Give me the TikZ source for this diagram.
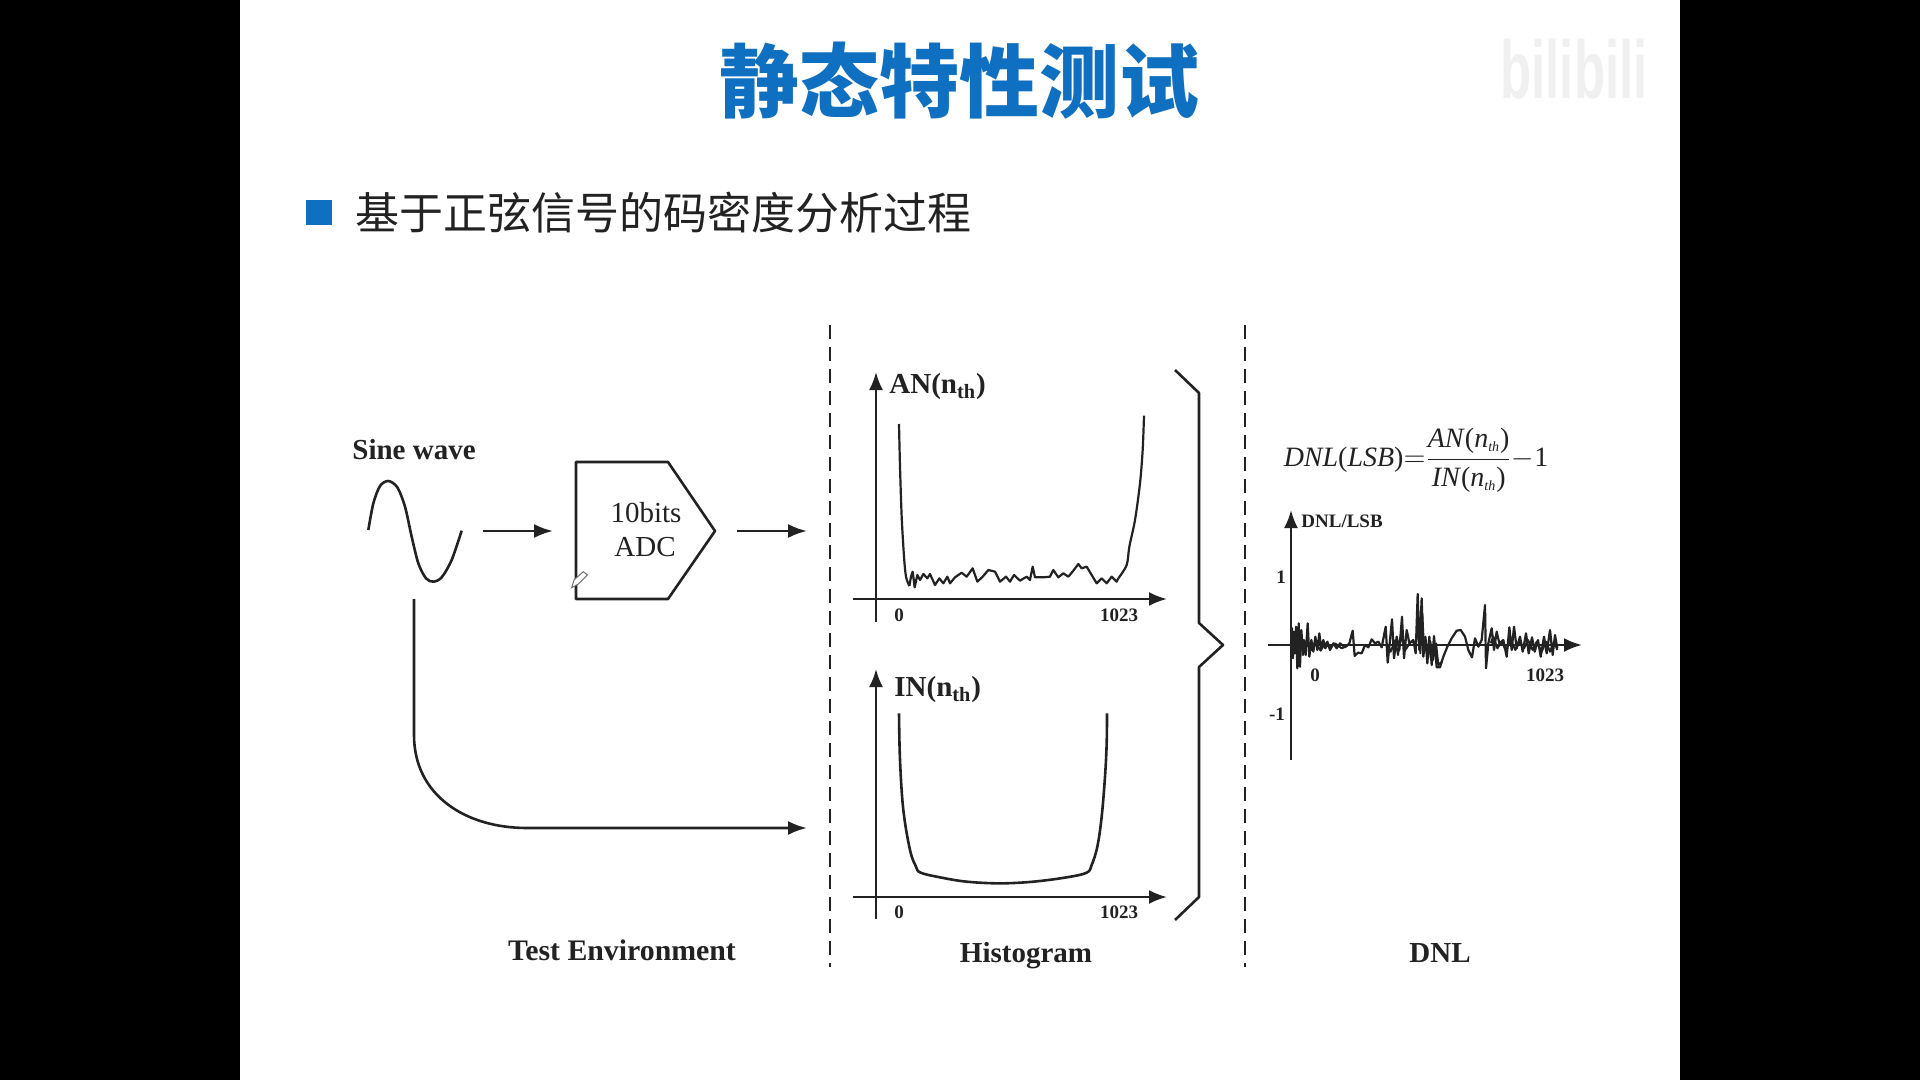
\documentclass[tikz,border=0pt]{standalone}
\usepackage{fontspec}
\setmainfont{Liberation Serif}
\newfontfamily\cjk{Noto Sans CJK SC}
\newfontfamily\logofont{Liberation Sans}
\usetikzlibrary{arrows.meta}
\definecolor{slideblue}{HTML}{0F6FC0}
\definecolor{inkgray}{HTML}{222222}
\tikzset{
	curveline/.style = {line width = 1.3pt, color = inkgray, line join = round},
	axisline/.style = {line width = 1.2pt, color = inkgray},
	arrowline/.style = {line width = 1.3pt, color = inkgray, -{Latex[length = 9.5pt, width = 7pt]}},
	smallarrow/.style = {line width = 1.2pt, color = inkgray, -{Latex[length = 9pt, width = 7pt]}},
	sepline/.style = {line width = 1.1pt, color = inkgray, dash pattern = on 7pt off 4pt},
	bigtext/.style = {inner sep = 0, color = inkgray, font = \fontsize{14.5}{17}\selectfont\bfseries},
	ticktext/.style = {inner sep = 0, color = inkgray, font = \fontsize{9.5}{11}\selectfont\bfseries},
	adctext/.style = {inner sep = 0, color = inkgray, font = \fontsize{14.5}{17}\selectfont},
}

\begin{document}
\begin{tikzpicture}[x = 0.5pt, y = -0.5pt]
	\useasboundingbox (0,0) rectangle (1920,1080);
	\fill[black] (0,0) rectangle (1920,1080);
	\fill[white] (240,0) rectangle (1680,1080);
	% heading
	\node[inner sep = 0, color = slideblue, font = \cjk\fontsize{40}{44}\selectfont\bfseries] (title) at (959,81) {静态特性测试};
	\fill[slideblue] (306,200) rectangle (332,225);
	\node[inner sep = 0, anchor = west, color = inkgray, font = \cjk\fontsize{22}{26}\selectfont] (subtitle) at (355,213) {基于正弦信号的码密度分析过程};
	\node[inner sep = 0, xscale = 0.62, color = black!6, font = \logofont\fontsize{41}{44}\selectfont\bfseries] (logo) at (1574,69) {bilibili};
	% separators
	\coordinate (sepa) at (830,325);
	\coordinate (sepb) at (830,967);
	\coordinate (sepc) at (1245,325);
	\coordinate (sepd) at (1245,967);
	\draw[sepline] (sepa) -- (sepb);
	\draw[sepline] (sepc) -- (sepd);
	% test environment
	\node[bigtext] (sinelabel) at (414,450) {Sine wave};
	\begin{scope}[shift = {(320,400)}, scale = 1/3]
		\draw[curveline] plot[smooth] coordinates {(145,390) (160,310) (180,258) (205,243) (232,262) (255,320) (275,410) (295,490) (318,535) (340,545) (365,532) (395,480) (425,392)};
	\end{scope}
	\coordinate (adcinA) at (483,531);
	\coordinate (adcinB) at (553,531);
	\draw[arrowline] (adcinA) -- (adcinB);
	\draw[curveline] (576,462) -- (668,462) -- (715,531) -- (668,599) -- (576,599) -- cycle;
	\node[adctext] (adcbits) at (646,513) {10bits};
	\node[adctext] (adcname) at (645,547) {ADC};
	\coordinate (adcoutA) at (737,531);
	\coordinate (adcoutB) at (807,531);
	\draw[arrowline] (adcoutA) -- (adcoutB);
	\begin{scope}[shift = {(320,400)}, scale = 1/3]
		\draw[fill = white, draw = black!55, line width = 0.5pt] (755,563) -- (762,540) -- (790,515) -- (802,525) -- (775,552) -- cycle;
	\end{scope}
	\coordinate (bypassA) at (414,599);
	\coordinate (bypassB) at (807,828);
	\draw[arrowline] (bypassA) -- (414,735) .. controls (414,795) and (465,828) .. (527,828) -- (bypassB);
	\node[bigtext, font = \fontsize{14.9}{17}\selectfont\bfseries] (testlabel) at (622,950) {Test Environment};
	% AN histogram
	\coordinate (anyA) at (876,622);
	\coordinate (anyB) at (876,372);
	\coordinate (anxA) at (853,599);
	\coordinate (anxB) at (1167,599);
	\draw[smallarrow] (anyA) -- (anyB);
	\draw[smallarrow] (anxA) -- (anxB);
	\node[bigtext, anchor = west] (anlabel) at (889,387) {AN(n\textsubscript{th})};
	\node[ticktext] (anzero) at (899,615) {0};
	\node[ticktext] (anend) at (1119,615) {1023};
	\begin{scope}[shift = {(840,350)}, scale = 1/3]
		\draw[curveline, line width = 1.1pt] plot[smooth] coordinates {(177,222) (180,350) (185,500) (192,620) (198,680) (208,708)};
		\draw[curveline, line width = 1.1pt] (208,708) -- (213,680) -- (218,665) -- (224,712) -- (232,675) -- (240,690) -- (250,672) -- (262,685) -- (270,672) -- (285,705) -- (298,685) -- (310,700) -- (322,680) -- (330,700) -- (345,682) -- (365,668) -- (380,680) -- (398,655) -- (412,695) -- (428,680) -- (445,660) -- (465,665) -- (480,695) -- (498,680) -- (510,695) -- (522,675) -- (540,692) -- (560,680) -- (570,690) -- (578,650) -- (585,682) -- (610,682) -- (630,680) -- (640,660) -- (655,682) -- (670,670) -- (685,680) -- (700,662) -- (715,642) -- (725,655) -- (740,650) -- (755,675) -- (770,700) -- (785,685) -- (800,700) -- (815,680) -- (830,695) -- (835,685);
		\draw[curveline, line width = 1.1pt] plot[smooth] coordinates {(835,685) (860,645) (868,590) (885,510) (900,400) (908,300) (912,197)};
	\end{scope}
	% IN histogram
	\coordinate (inyA) at (876,919);
	\coordinate (inyB) at (876,669);
	\coordinate (inxA) at (853,897);
	\coordinate (inxB) at (1167,897);
	\draw[smallarrow] (inyA) -- (inyB);
	\draw[smallarrow] (inxA) -- (inxB);
	\node[bigtext, anchor = west] (inlabel) at (894,690) {IN(n\textsubscript{th})};
	\node[ticktext] (inzero) at (899,912) {0};
	\node[ticktext] (inend) at (1119,912) {1023};
	\begin{scope}[shift = {(840,650)}, scale = 1/3]
		\draw[curveline] plot[smooth, tension = 0.6] coordinates {(177,190) (180,330) (190,480) (210,600) (228,650) (242,668) (300,682) (380,695) (480,700) (580,695) (680,682) (740,668) (755,645) (772,590) (785,500) (795,380) (800,280) (801,190)};
	\end{scope}
	\node[bigtext] (histlabel) at (1026,956) {Histogram};
	% brace
	\draw[curveline] (1175,370) -- (1199,393) -- (1199,623) -- (1223,645) -- (1199,667) -- (1199,897) -- (1175,920);
	% DNL
	\node[inner sep = 0, color = inkgray, font = \fontsize{14}{17}\selectfont] (formula) at (1416,460) {$\displaystyle\mbox{\textit{DNL}(\textit{LSB})}{=}\frac{\mbox{\textit{AN}(\textit{n\textsubscript{\scriptsize th}})}}{\mbox{\textit{IN}(\textit{n\textsubscript{\scriptsize th}})}}{-}\mbox{1}$};
	\coordinate (dnlyA) at (1291,760);
	\coordinate (dnlyB) at (1291,510);
	\coordinate (dnlxA) at (1268,645);
	\coordinate (dnlxB) at (1582,645);
	\draw[smallarrow] (dnlyA) -- (dnlyB);
	\draw[smallarrow] (dnlxA) -- (dnlxB);
	\node[ticktext, anchor = west] (dnllabel) at (1301,521) {DNL/LSB};
	\node[ticktext] (dnlone) at (1281,577) {1};
	\node[ticktext] (dnlminus) at (1277,714) {-1};
	\node[ticktext] (dnlzero) at (1315,675) {0};
	\node[ticktext] (dnlend) at (1545,675) {1023};
	\begin{scope}[shift = {(1240,410)}, scale = 1/3]
		\draw[curveline, line width = 1.1pt] (153,700) -- (156,655) -- (159,745) -- (162,665) -- (165,730) -- (168,650) -- (172,775) -- (176,640) -- (180,770) -- (184,660) -- (188,720) -- (192,690) -- (197,735) -- (203,640) -- (208,740) -- (214,690) -- (220,725) -- (226,680) -- (232,720) -- (238,670) -- (243,715) -- (250,690) -- (256,715) -- (262,695) -- (270,720) -- (280,700) -- (290,715) -- (300,700) -- (315,712) -- (328,700) -- (338,662) -- (344,738) -- (354,728) -- (365,730) -- (375,705) -- (385,712) -- (395,688) -- (405,700) -- (415,695) -- (425,712) -- (437,650) -- (443,758) -- (450,690) -- (456,628) -- (462,745) -- (470,680) -- (478,720) -- (486,620) -- (492,745) -- (500,660) -- (508,700) -- (520,690) -- (527,730) -- (533,552) -- (538,720) -- (545,565) -- (550,740) -- (556,680) -- (562,760) -- (568,680) -- (575,765) -- (582,678) -- (590,772) -- (600,772) -- (610,740) -- (622,710) -- (635,685) -- (650,662) -- (662,660) -- (675,680) -- (685,720) -- (696,742) -- (705,685) -- (715,710) -- (725,690) -- (735,585) -- (738,775) -- (745,700) -- (755,655) -- (762,720) -- (770,665) -- (778,700) -- (790,690) -- (800,740) -- (808,652) -- (815,720) -- (822,650) -- (830,715) -- (840,680) -- (848,725) -- (858,670) -- (866,730) -- (876,682) -- (884,725) -- (894,690) -- (902,740) -- (912,680) -- (920,730) -- (930,660) -- (938,735) -- (945,675) -- (952,715);
		\draw[curveline, line width = 1pt] (155,690) -- (160,730) -- (167,670) -- (174,745) -- (181,675) -- (189,735) -- (200,700) -- (215,720) -- (228,700) -- (242,722) -- (255,700) -- (268,712) -- (285,700) -- (305,715) -- (325,705);
		\draw[curveline, line width = 1pt] (440,700) -- (452,725) -- (466,690) -- (474,735) -- (482,680) -- (496,720) -- (512,695) -- (528,700) -- (536,640) -- (541,730) -- (547,610) -- (552,720) -- (558,690) -- (564,745) -- (571,695) -- (579,750) -- (588,700) -- (595,765) -- (606,755);
		\draw[curveline, line width = 1pt] (752,700) -- (760,680) -- (772,715) -- (785,695) -- (797,720) -- (812,690) -- (826,720) -- (838,695) -- (852,715) -- (864,690) -- (878,720) -- (890,695) -- (905,725) -- (918,695) -- (930,725) -- (942,695) -- (952,720);
	\end{scope}
	\node[bigtext] (dnltitle) at (1440,953) {DNL};
\end{tikzpicture}
\end{document}
